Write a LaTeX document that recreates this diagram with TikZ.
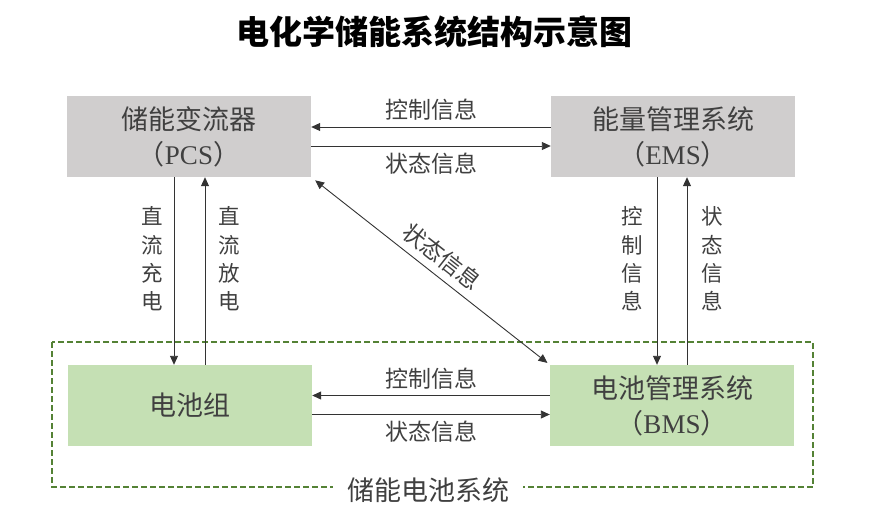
\documentclass[tikz,border=0pt]{standalone}
\usepackage{fontspec}
\setmainfont{Liberation Serif}
\newfontfamily\cjk{Noto Sans CJK SC}
\usetikzlibrary{arrows.meta}
\definecolor{boxgray}{RGB}{208,206,206}
\definecolor{boxgreen}{RGB}{197,224,180}
\definecolor{dashgreen}{RGB}{84,130,53}
\definecolor{txt}{RGB}{64,64,64}
\begin{document}
\begin{tikzpicture}[x=1pt,y=-1pt,
  box/.style={minimum width=244pt,minimum height=81pt,inner sep=0pt,align=center,
    text=txt,font=\cjk\fontsize{27}{35}\selectfont},
  graybox/.style={box,fill=boxgray},
  greenbox/.style={box,fill=boxgreen},
  arr/.style={draw=black!80,line width=0.9pt,-{Triangle[length=9pt,width=8pt]}},
  dblarr/.style={draw=black!80,line width=0.9pt,{Triangle[length=9pt,width=8pt]}-{Triangle[length=9pt,width=8pt]}},
  lbl/.style={text=txt,font=\cjk\fontsize{23}{23}\selectfont,inner sep=1pt},
  vlbl/.style={text=txt,font=\cjk\fontsize{21.5}{28.3}\selectfont,align=center,inner sep=0pt},
  sysbox/.style={draw=dashgreen,line width=1.3pt,dash pattern=on 6pt off 3pt}
]
\useasboundingbox (0,0) rectangle (880,528);
\node[font=\cjk\bfseries\fontsize{33}{33}\selectfont] (title) at (434,32) {电化学储能系统结构示意图};

% dashed system box
\coordinate (s1) at (52,342);
\coordinate (s2) at (813,487);
\draw[sysbox] (s1) rectangle (s2);
\node[fill=white,inner xsep=14pt,inner ysep=4pt,text=txt,font=\cjk\fontsize{27}{27}\selectfont] (syslbl) at (428,490) {储能电池系统};

% boxes
\node[graybox] (pcs) at (189,136.5) {储能变流器\\{\cjk （}{\rmfamily\fontsize{27}{35}\selectfont PCS}{\cjk ）}};
\node[graybox] (ems) at (673,136.5) {能量管理系统\\{\cjk （}{\rmfamily\fontsize{27}{35}\selectfont EMS}{\cjk ）}};
\node[greenbox] (bat) at (190,405.5) {电池组};
\node[greenbox] (bms) at (672,405.5) {电池管理系统\\{\cjk （}{\rmfamily\fontsize{27}{35}\selectfont BMS}{\cjk ）}};

% top horizontal arrows
\draw[arr] ([yshift=9.5pt]ems.west) -- node[lbl,midway,above=5pt] (l1) {控制信息} ([yshift=9.5pt]pcs.east);
\draw[arr] ([yshift=-9.5pt]pcs.east) -- node[lbl,midway,below=5pt] (l2) {状态信息} ([yshift=-9.5pt]ems.west);

% bottom horizontal arrows
\draw[arr] ([yshift=10pt]bms.west) -- node[lbl,midway,above=5pt] (l3) {控制信息} ([yshift=10pt]bat.east);
\draw[arr] ([yshift=-9pt]bat.east) -- node[lbl,midway,below=5pt] (l4) {状态信息} ([yshift=-9pt]bms.west);

% left vertical arrows
\draw[arr] ([xshift=-15pt]pcs.south) -- ([xshift=-16pt]bat.north);
\draw[arr] ([xshift=15pt]bat.north) -- ([xshift=16pt]pcs.south);
\node[vlbl] (v1) at (152,259) {直\\流\\充\\电};
\node[vlbl] (v2) at (229,259) {直\\流\\放\\电};

% right vertical arrows
\draw[arr] ([xshift=-16pt]ems.south) -- ([xshift=-15pt]bms.north);
\draw[arr] ([xshift=15pt]bms.north) -- ([xshift=14pt]ems.south);
\node[vlbl] (v3) at (632,259) {控\\制\\信\\息};
\node[vlbl] (v4) at (712,259) {状\\态\\信\\息};

% diagonal
\draw[dblarr,shorten <=5pt,shorten >=3pt] (pcs.south east) -- node[lbl,midway,sloped,above=6pt] (l5) {状态信息} (bms.north west);
\end{tikzpicture}
\end{document}
